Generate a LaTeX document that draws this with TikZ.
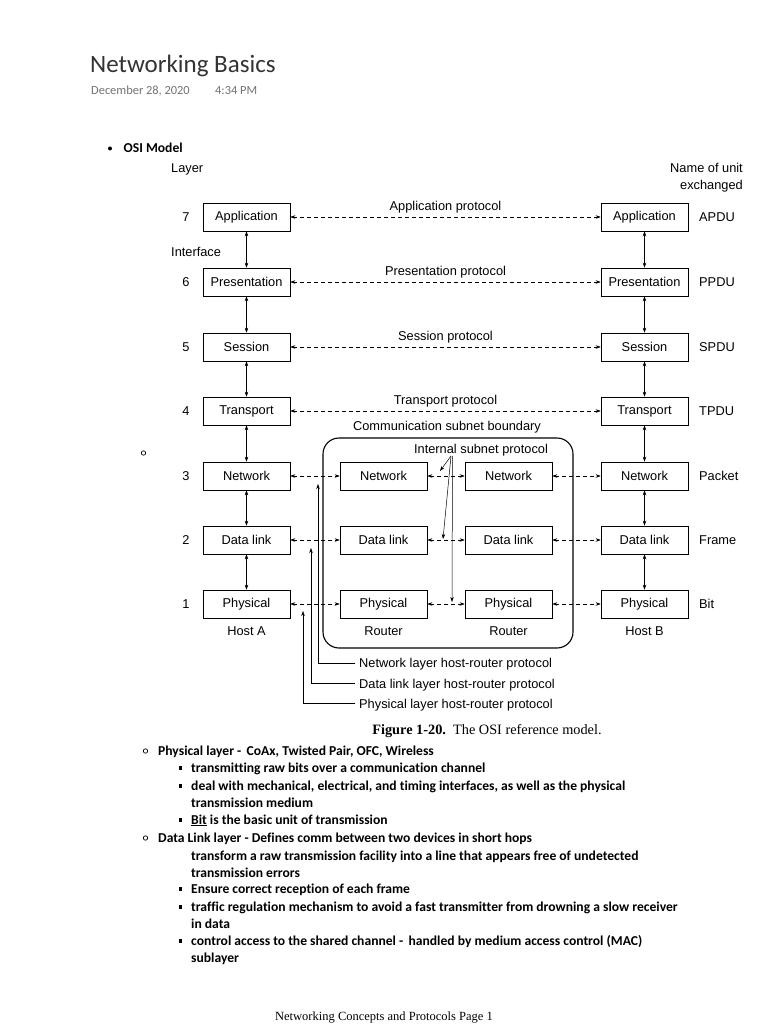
\documentclass[tikz,border=0pt]{standalone}
\usepackage{fontspec}
\setmainfont{Carlito}[Ligatures=NoCommon]
\newfontfamily\arialf{Liberation Sans}
\newfontfamily\timesf{Liberation Serif}
\usetikzlibrary{arrows.meta}
\begin{document}
\begin{tikzpicture}[x=1pt,y=-1pt,
  box/.style={draw, line width=0.6pt, minimum width=87pt, minimum height=28pt, inner sep=0pt, font=\arialf\fontsize{12.8}{14}\selectfont},
  lbl/.style={inner sep=0pt, font=\arialf\fontsize{12.8}{14}\selectfont},
  txt/.style={inner sep=0pt, anchor=base west, font=\bfseries\fontsize{13.6}{15}\selectfont},
  dar/.style={line width=0.5pt, dash pattern=on 4pt off 3pt, {Stealth[length=5pt,width=3.5pt]}-{Stealth[length=5pt,width=3.5pt]}},
  var/.style={line width=0.5pt, {Stealth[length=5pt,width=3.5pt]}-{Stealth[length=5pt,width=3.5pt]}},
  sar/.style={line width=0.5pt, -{Stealth[length=5pt,width=3.5pt]}},
  sq/.style={fill=black, minimum size=3.6pt, inner sep=0pt}]
\useasboundingbox (0,0) rectangle (768,1024);
\fill[white] (0,0) rectangle (768,1024);
% header
\node[inner sep=0pt, anchor=base west, font=\fontsize{25}{28}\selectfont, text=black!80] (title) at (90,72.5) {Networking Basics};
\node[inner sep=0pt, anchor=base west, font=\fontsize{12.4}{14}\selectfont, text=black!55] (date) at (91,94.5) {December 28, 2020};
\node[inner sep=0pt, anchor=base west, font=\fontsize{12.4}{14}\selectfont, text=black!55] (time) at (215,94.5) {4:34 PM};
\fill (110,148.5) circle (2);
\node[txt] (osi) at (123.5,152.5) {OSI Model};
\draw[line width=0.7pt] (143.5,453) circle (2.2);
% layer headings
\node[lbl, anchor=base west] (layerh) at (171,173) {Layer};
\node[lbl, anchor=base east] (nameh1) at (743,173) {Name of unit};
\node[lbl, anchor=base east] (nameh2) at (743,190) {exchanged};
\node[lbl, anchor=base west] (iface) at (171,256) {Interface};
% rows
\foreach \n/\y/\num/\lname/\pdu in {7/217/7/Application/APDU, 6/282/6/Presentation/PPDU, 5/347/5/Session/SPDU, 4/411/4/Transport/TPDU, 3/476/3/Network/Packet, 2/540/2/Data link/Frame, 1/604/1/Physical/Bit}{
  \node[lbl] (num\n) at (186,\y) {\num};
  \node[box] (A\n) at (246.5,\y) {\lname};
  \node[box] (B\n) at (644.5,\y) {\lname};
  \node[lbl, anchor=west] (pdu\n) at (699,\y) {\pdu};
}
\node[box] (R3) at (383.5,476) {Network};
\node[box] (S3) at (508.5,476) {Network};
\node[box] (R2) at (383.5,540) {Data link};
\node[box] (S2) at (508.5,540) {Data link};
\node[box] (R1) at (383.5,604) {Physical};
\node[box] (S1) at (508.5,604) {Physical};
% vertical interfaces
\foreach \a/\b in {7/6,6/5,5/4,4/3,3/2,2/1}{
  \draw[var] (A\a.south) -- (A\b.north);
  \draw[var] (B\a.south) -- (B\b.north);
}
% peer protocols
\foreach \n/\t in {7/Application protocol, 6/Presentation protocol, 5/Session protocol, 4/Transport protocol}{
  \draw[dar] (A\n.east) -- (B\n.west) node[lbl, midway, above=4pt] {\t};
}
\foreach \n in {3,2,1}{
  \draw[dar] (A\n.east) -- (R\n.west);
  \draw[dar] (R\n.east) -- (S\n.west);
  \draw[dar] (S\n.east) -- (B\n.west);
}
% labels under
\node[lbl, anchor=base] (hosta) at (246.5,635) {Host A};
\node[lbl, anchor=base] (hostb) at (644.5,635) {Host B};
\node[lbl, anchor=base] (rt1) at (383.5,635) {Router};
\node[lbl, anchor=base] (rt2) at (508.5,635) {Router};
% subnet
\draw[line width=1.1pt, rounded corners=16pt] (323,438) rectangle (573,648);
\node[lbl, anchor=base] (cbound) at (447,430) {Communication subnet boundary};
\node[lbl, anchor=base] (isp) at (481,453) {Internal subnet protocol};
\coordinate (ispa) at (451,456);
\coordinate (i3) at (440,471);
\coordinate (i2) at (443,539);
\coordinate (i1) at (452,602);
\draw[sar] (ispa) -- (i3);
\draw[sar] (ispa) -- (i2);
\draw[sar] ([xshift=1.5pt]ispa) -- (i1);
% host-router protocols
\node[lbl, anchor=base west] (hr3) at (359,667) {Network layer host-router protocol};
\node[lbl, anchor=base west] (hr2) at (359,688) {Data link layer host-router protocol};
\node[lbl, anchor=base west] (hr1) at (359,708) {Physical layer host-router protocol};
\coordinate (t3) at (318,484);
\coordinate (t2) at (311,548);
\coordinate (t1) at (303,611);
\draw[sar] ([xshift=-4pt]hr3.west |- 0,663) -| (t3);
\draw[sar] ([xshift=-4pt]hr2.west |- 0,683) -| (t2);
\draw[sar] ([xshift=-4pt]hr1.west |- 0,703) -| (t1);
% caption
\node[inner sep=0pt, anchor=base] (cap) at (487,734) {\timesf\fontsize{14.3}{16}\selectfont\textbf{Figure 1-20.}\hspace{0.5em}The OSI reference model.};
% text
\draw[line width=0.7pt] (145.5,751) circle (2.2);
\node[txt] (l1) at (158,755) {Physical layer -\, CoAx, Twisted Pair, OFC, Wireless};
\node[sq] (b1) at (180.5,768) {};
\node[txt] (l2) at (191,772) {transmitting raw bits over a communication channel};
\node[sq] (b2) at (180.5,786) {};
\node[txt] (l3) at (191,790) {deal with mechanical, electrical, and timing interfaces, as well as the physical};
\node[txt] (l4) at (191,807) {transmission medium};
\node[sq] (b3) at (180.5,820) {};
\node[txt] (l5) at (191,824) {\underline{Bit} is the basic unit of transmission};
\draw[line width=0.7pt] (145.5,838) circle (2.2);
\node[txt] (l6) at (158,842) {Data Link layer - Defines comm between two devices in short hops};
\node[txt] (l7) at (191,860) {transform a raw transmission facility into a line that appears free of undetected};
\node[txt] (l8) at (191,877) {transmission errors};
\node[sq] (b4) at (180.5,889) {};
\node[txt] (l9) at (191,893) {Ensure correct reception of each frame};
\node[sq] (b5) at (180.5,907) {};
\node[txt] (l10) at (191,911) {traffic regulation mechanism to avoid a fast transmitter from drowning a slow receiver};
\node[txt] (l11) at (191,928) {in data};
\node[sq] (b6) at (180.5,941) {};
\node[txt] (l12) at (191,945) {control access to the shared channel -\, handled by medium access control (MAC)};
\node[txt] (l13) at (191,962) {sublayer};
\node[inner sep=0pt, anchor=base] (foot) at (384,1020) {\timesf\fontsize{12.5}{14}\selectfont Networking Concepts and Protocols Page 1};
\end{tikzpicture}
\end{document}
